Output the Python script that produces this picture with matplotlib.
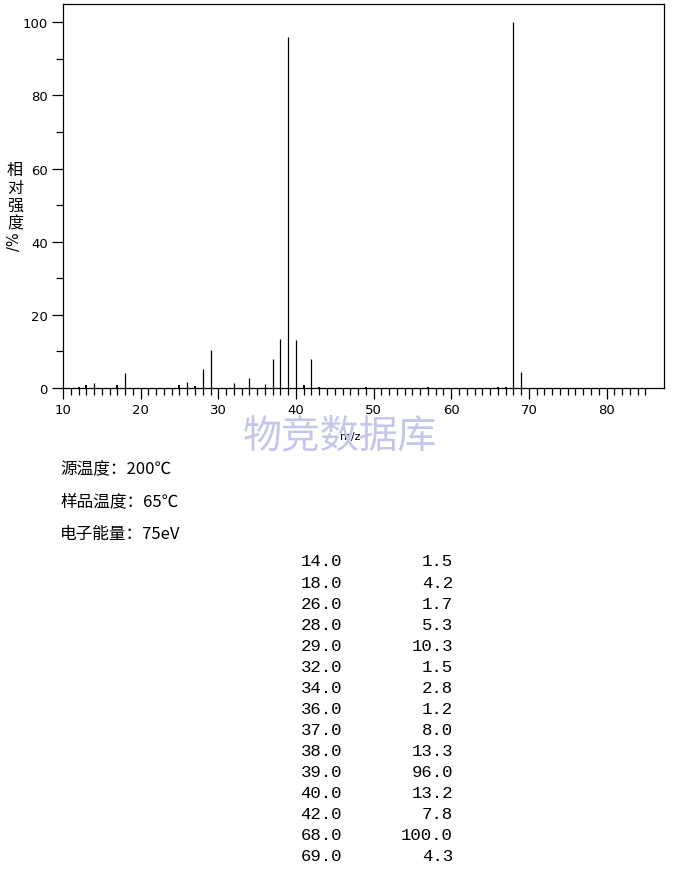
import numpy as np
import matplotlib
matplotlib.use("Agg")
import matplotlib.pyplot as plt

# peaks listed in the table
mz = [14, 18, 26, 28, 29, 32, 34, 36, 37, 38, 39, 40, 42, 68, 69]
intensity = [1.5, 4.2, 1.7, 5.3, 10.3, 1.5, 2.8, 1.2, 8.0, 13.3, 96.0, 13.2, 7.8, 100.0, 4.3]

# tiny peaks that show in the plot but not in the table
minor_mz = [12, 13, 17, 25, 27, 41, 43, 49, 57, 66, 67]
minor_int = [0.3, 0.8, 0.8, 0.7, 0.6, 0.8, 0.4, 0.3, 0.3, 0.3, 0.4]

info = ["源温度：200℃", "样品温度：65℃", "电子能量：75eV"]

W, H = 680, 879
fig = plt.figure(figsize=(W / 100, H / 100), dpi=100)
ax = fig.add_axes([63 / W, 1 - 389 / H, (664 - 63) / W, (389 - 5) / H])

ax.vlines(mz, 0, intensity, color="black", lw=0.9)
ax.vlines(minor_mz, 0, minor_int, color="black", lw=1.4)

ax.set_xlim(10, 87.4)
ax.set_ylim(0, 105)
ax.set_xticks(np.arange(10, 90, 10))
ax.set_xticks(np.arange(10, 86, 1), minor=True)
ax.set_yticks(np.arange(0, 101, 20))
ax.set_yticks(np.arange(0, 101, 10), minor=True)
ax.tick_params(which="major", direction="out", length=8, width=0.9, labelsize=9.5, pad=3)
ax.tick_params(which="minor", direction="out", length=5, width=0.9)
for s in ax.spines.values():
    s.set_linewidth(0.9)

# axis labels
fig.text(350 / W, 1 - 437 / H, "m/z", fontsize=8, ha="center", va="center")
ylab = "相对强度"
for i, ch in enumerate(ylab):
    fig.text(15 / W, 1 - (170 + i * 18) / H, ch, fontsize=11.5, ha="center", va="center",
             family=["Noto Sans CJK SC", "DejaVu Sans"])
fig.text(15 / W, 1 - 242 / H, "/%", fontsize=10.5, rotation=90, ha="center", va="center")

# watermark
fig.text(340 / W, 1 - 438 / H, "物竞数据库", fontsize=28, color="#c6c6ea",
         ha="center", va="center", family=["Noto Sans CJK SC"])

for i, t in enumerate(info):
    fig.text(60 / W, 1 - (470 + i * 32) / H, t, fontsize=12, ha="left", va="center",
             family=["Noto Sans CJK SC", "DejaVu Sans"])

for i, (m, v) in enumerate(zip(mz, intensity)):
    y = 1 - (562 + i * 21.07) / H
    fig.text(342 / W, y, f"{m:.1f}", fontsize=12.5, ha="right", va="center", family="Liberation Mono")
    fig.text(453 / W, y, f"{v:.1f}", fontsize=12.5, ha="right", va="center", family="Liberation Mono")

fig.savefig("out.png", dpi=100)
